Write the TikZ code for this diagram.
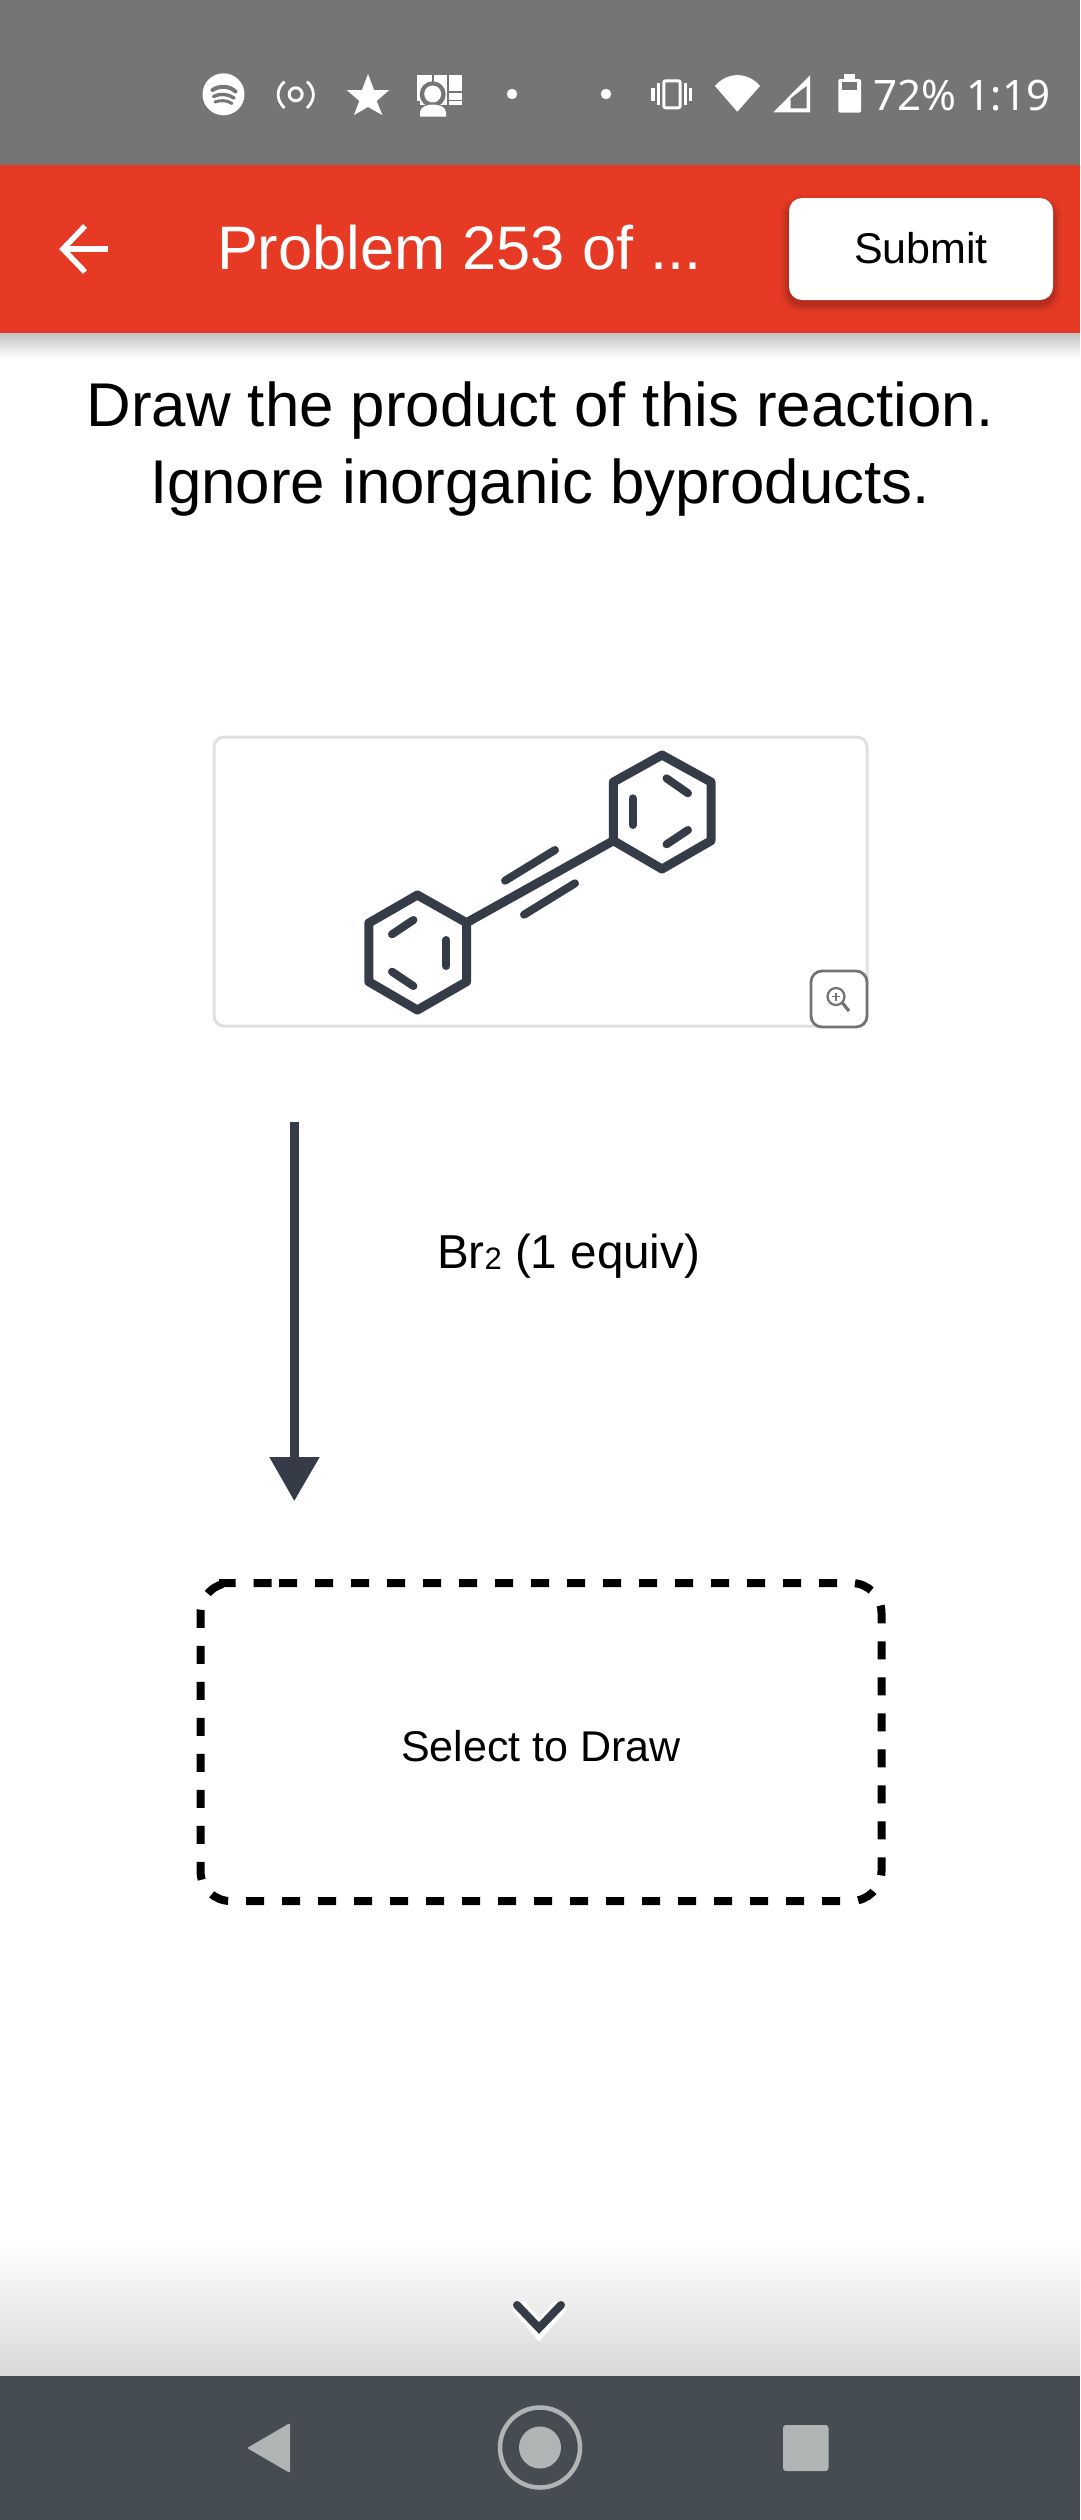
\documentclass[tikz,border=0pt]{standalone}
\usepackage{fontspec}
\setmainfont{Liberation Sans}
\newfontfamily\clockfont{Noto Sans}
\definecolor{statusgray}{HTML}{757575}
\definecolor{appred}{HTML}{E63A25}
\definecolor{molink}{HTML}{353C47}
\definecolor{navdark}{HTML}{454C52}
\definecolor{navicon}{HTML}{B0B4B5}
\definecolor{framegray}{HTML}{E0E0E0}
\tikzset{
  x=1pt,y=-1pt,
  lbl/.style={inner sep=0pt,outer sep=0pt,anchor=base,font=\fontsize{#1}{#1}\selectfont},
  bond/.style={draw=molink,line width=9pt,line join=round,line cap=round},
  ibond/.style={draw=molink,line width=8pt,line cap=round},
  staticon/.style={fill=white,draw=none},
}
\begin{document}
\begin{tikzpicture}
\useasboundingbox (0,0) rectangle (1080,2520);
\fill[white] (0,0) rectangle (1080,2520);
% status bar
\fill[statusgray] (0,0) rectangle (1080,165);
% spotify
\fill[staticon] (223.5,94.3) circle (21);
\draw[statusgray,line width=4,line cap=round] (212.5,90) .. controls (219,85.5) and (229,85.5) .. (235.5,91.5);
\draw[statusgray,line width=3.4,line cap=round] (213.5,96.5) .. controls (219,93.5) and (228,93.5) .. (234,98);
\draw[statusgray,line width=3,line cap=round] (215,102) .. controls (220,100) and (227,100) .. (232,103.5);
% hotspot
\draw[white,line width=3] (295.7,94.3) circle (6.5);
\draw[white,line width=2.8] (284.5,81.5) .. controls (276,89) and (276,100) .. (284.5,108);
\draw[white,line width=2.8] (307,81.5) .. controls (315.5,89) and (315.5,100) .. (307,108);
% star
\fill[staticon] (368,74)--(374,90)--(389.3,90)--(376.7,101)--(382.3,115)--(368,107)--(354,115)--(359.3,101)--(346.7,90)--(362,90)--cycle;
% person icon
\fill[staticon] (417.3,74.7) rectangle (462,105.3);
\fill[statusgray] (446.7,74.7) rectangle (448.7,105.3);
\fill[statusgray] (448.7,90.5) rectangle (462,92.5);
\fill[statusgray] (448.7,99.8) rectangle (462,101.3);
\fill[statusgray] (431.5,74.7) rectangle (433.5,82);
\fill[statusgray] (432.7,94.3) circle (13);
\fill[staticon] (432.7,94) circle (8.5);
\fill[statusgray] (417.3,101) rectangle (420,105.3);
\fill[staticon] (420,116.7) -- (420,112) .. controls (421,102) and (445,102) .. (446,112) -- (446,116.7) -- cycle;
% dots
\fill[staticon] (512,94) circle (5.2);
\fill[staticon] (606,94) circle (5.2);
% vibrate
\draw[white,line width=3,rounded corners=2] (663.8,80.8) rectangle (680.2,107.8);
\fill[staticon] (650.7,88) rectangle (654.7,100.7);
\fill[staticon] (656.7,83) rectangle (660,105);
\fill[staticon] (683.5,83) rectangle (686.8,105);
\fill[staticon] (688.5,88) rectangle (692.3,100.7);
% wifi
\fill[staticon] (715,86) .. controls (727,71.5) and (748,71.5) .. (760,86) -- (737.3,111.7) -- cycle;
% signal
\fill[staticon] (810,75.3) -- (810,112.3) -- (773.3,112.3) -- cycle;
\fill[statusgray] (806.7,86) -- (806.7,108.3) -- (790.7,108.3) -- (790.7,98.3) -- cycle;
% battery
\fill[staticon,rounded corners=2] (838.3,79) rectangle (861,112.7);
\fill[staticon] (844,74) rectangle (855,80);
\fill[statusgray] (842.3,82) rectangle (857.3,90);
\node[lbl=42,anchor=base west,text=white] (clock) at (873,110) {\clockfont 72\% 1:19};
% app bar
\fill[appred] (0,165) rectangle (1080,333);
\shade[top color=black!24,bottom color=white] (0,333) rectangle (1080,358);
\draw[white,line width=5.5,line join=miter] (85,226) -- (63,249) -- (85,272);
\draw[white,line width=5.5] (63,249) -- (108,249);
\node[lbl=61.4,anchor=base west,text=white] (title) at (217,269) {Problem 253 of ...};
\foreach \gg/\oo in {9/0.03,6/0.05,4/0.06,2/0.07}{
  \fill[black,opacity=\oo,rounded corners=13+\gg] (789-\gg,204-\gg) rectangle (1053+\gg,304+\gg);
}
\node[fill=white,rounded corners=13,minimum width=264pt,minimum height=102pt,inner sep=0pt] (submit) at (921,249) {};
\node[lbl=43,text=black] (submitlabel) at (921,263) {Submit};
% question
\node[lbl=61.8,text=black] (q1) at (540,426) {Draw the product of this reaction.};
\node[lbl=61.8,text=black] (q2) at (540,503) {Ignore inorganic byproducts.};
% substrate frame
\draw[framegray,line width=3,rounded corners=10,fill=white] (214,737) rectangle (867,1026);
% left ring
\coordinate (a1) at (417.4,895);
\coordinate (a2) at (466.5,922.7);
\coordinate (a3) at (466.5,981.7);
\coordinate (a4) at (417.4,1010);
\coordinate (a5) at (368.8,981.7);
\coordinate (a6) at (368.8,923);
\coordinate (b1) at (662,755);
\coordinate (b2) at (711,782);
\coordinate (b3) at (711,840.7);
\coordinate (b4) at (662,869);
\coordinate (b5) at (613.4,840.7);
\coordinate (b6) at (613.4,782);
\path[bond] (a1)--(a2)--(a3)--(a4)--(a5)--(a6)--cycle;
\path[bond] (b1)--(b2)--(b3)--(b4)--(b5)--(b6)--cycle;
\draw[molink,line width=9pt] (a2)--(b5);
\coordinate (t1) at (505,880.7); \coordinate (t2) at (555,850);
\coordinate (t3) at (524,914.7); \coordinate (t4) at (575,883.3);
\path[ibond] (t1)--(t2);
\path[ibond] (t3)--(t4);
\coordinate (i1) at (392,934.3); \coordinate (i2) at (413.4,920);
\coordinate (i3) at (446.4,940); \coordinate (i4) at (446.4,966);
\coordinate (i5) at (392,971.7); \coordinate (i6) at (413.4,986);
\path[ibond] (i1)--(i2); \path[ibond] (i3)--(i4); \path[ibond] (i5)--(i6);
\coordinate (j1) at (666.5,778.3); \coordinate (j2) at (688,793.3);
\coordinate (j3) at (632.6,798.3); \coordinate (j4) at (632.6,825);
\coordinate (j5) at (666.5,844.3); \coordinate (j6) at (688,830);
\path[ibond] (j1)--(j2); \path[ibond] (j3)--(j4); \path[ibond] (j5)--(j6);
% zoom button
\draw[black!55,line width=2.8,rounded corners=11,fill=white] (811,971) rectangle (867,1027);
\draw[black!55,line width=2.2] (836,996.5) circle (8.5);
\draw[black!55,line width=3.2] (842.5,1003) -- (849,1011);
\draw[black!55,line width=1.8] (832,996.5) -- (840,996.5) (836,992.5) -- (836,1000.5);
% reaction arrow
\coordinate (arrowstart) at (294.3,1122);
\coordinate (arrowneck) at (294.3,1460);
\draw[molink,line width=8.7pt] (arrowstart) -- (arrowneck);
\fill[molink] (269.3,1457) -- (319.7,1457) -- (294.3,1500.7) -- cycle;
\node[lbl=47.6,text=black,anchor=base west] (reagent) at (437,1268) {Br\raisebox{-1pt}{\fontsize{31}{31}\selectfont 2} (1 equiv)};
% answer box
\draw[black,line width=8pt,dash pattern=on 18pt off 18pt,rounded corners=30]
  (249,1583) -- (881.5,1583) -- (881.5,1901) -- (200.5,1901) -- (200.5,1583) -- cycle;
\node[lbl=43,text=black] (selectdraw) at (541,1761) {Select to Draw};
% fade and nav
\shade[top color=white,bottom color=black!15] (0,2240) rectangle (1080,2376);
\draw[white,line width=15pt,line join=miter] (518,2305) -- (539,2330) -- (561,2305);
\draw[molink,line width=8pt,line cap=round,line join=miter] (517,2305) -- (539,2328) -- (561,2305);
\fill[navdark] (0,2376) rectangle (1080,2520);
\fill[navicon,rounded corners=2] (290,2423) -- (247,2448) -- (290,2473) -- cycle;
\draw[navicon,line width=4.5] (540,2447.5) circle (40);
\fill[navicon] (540,2447.5) circle (21);
\fill[navicon,rounded corners=3] (783,2425) rectangle (828.5,2471);
\end{tikzpicture}
\end{document}
